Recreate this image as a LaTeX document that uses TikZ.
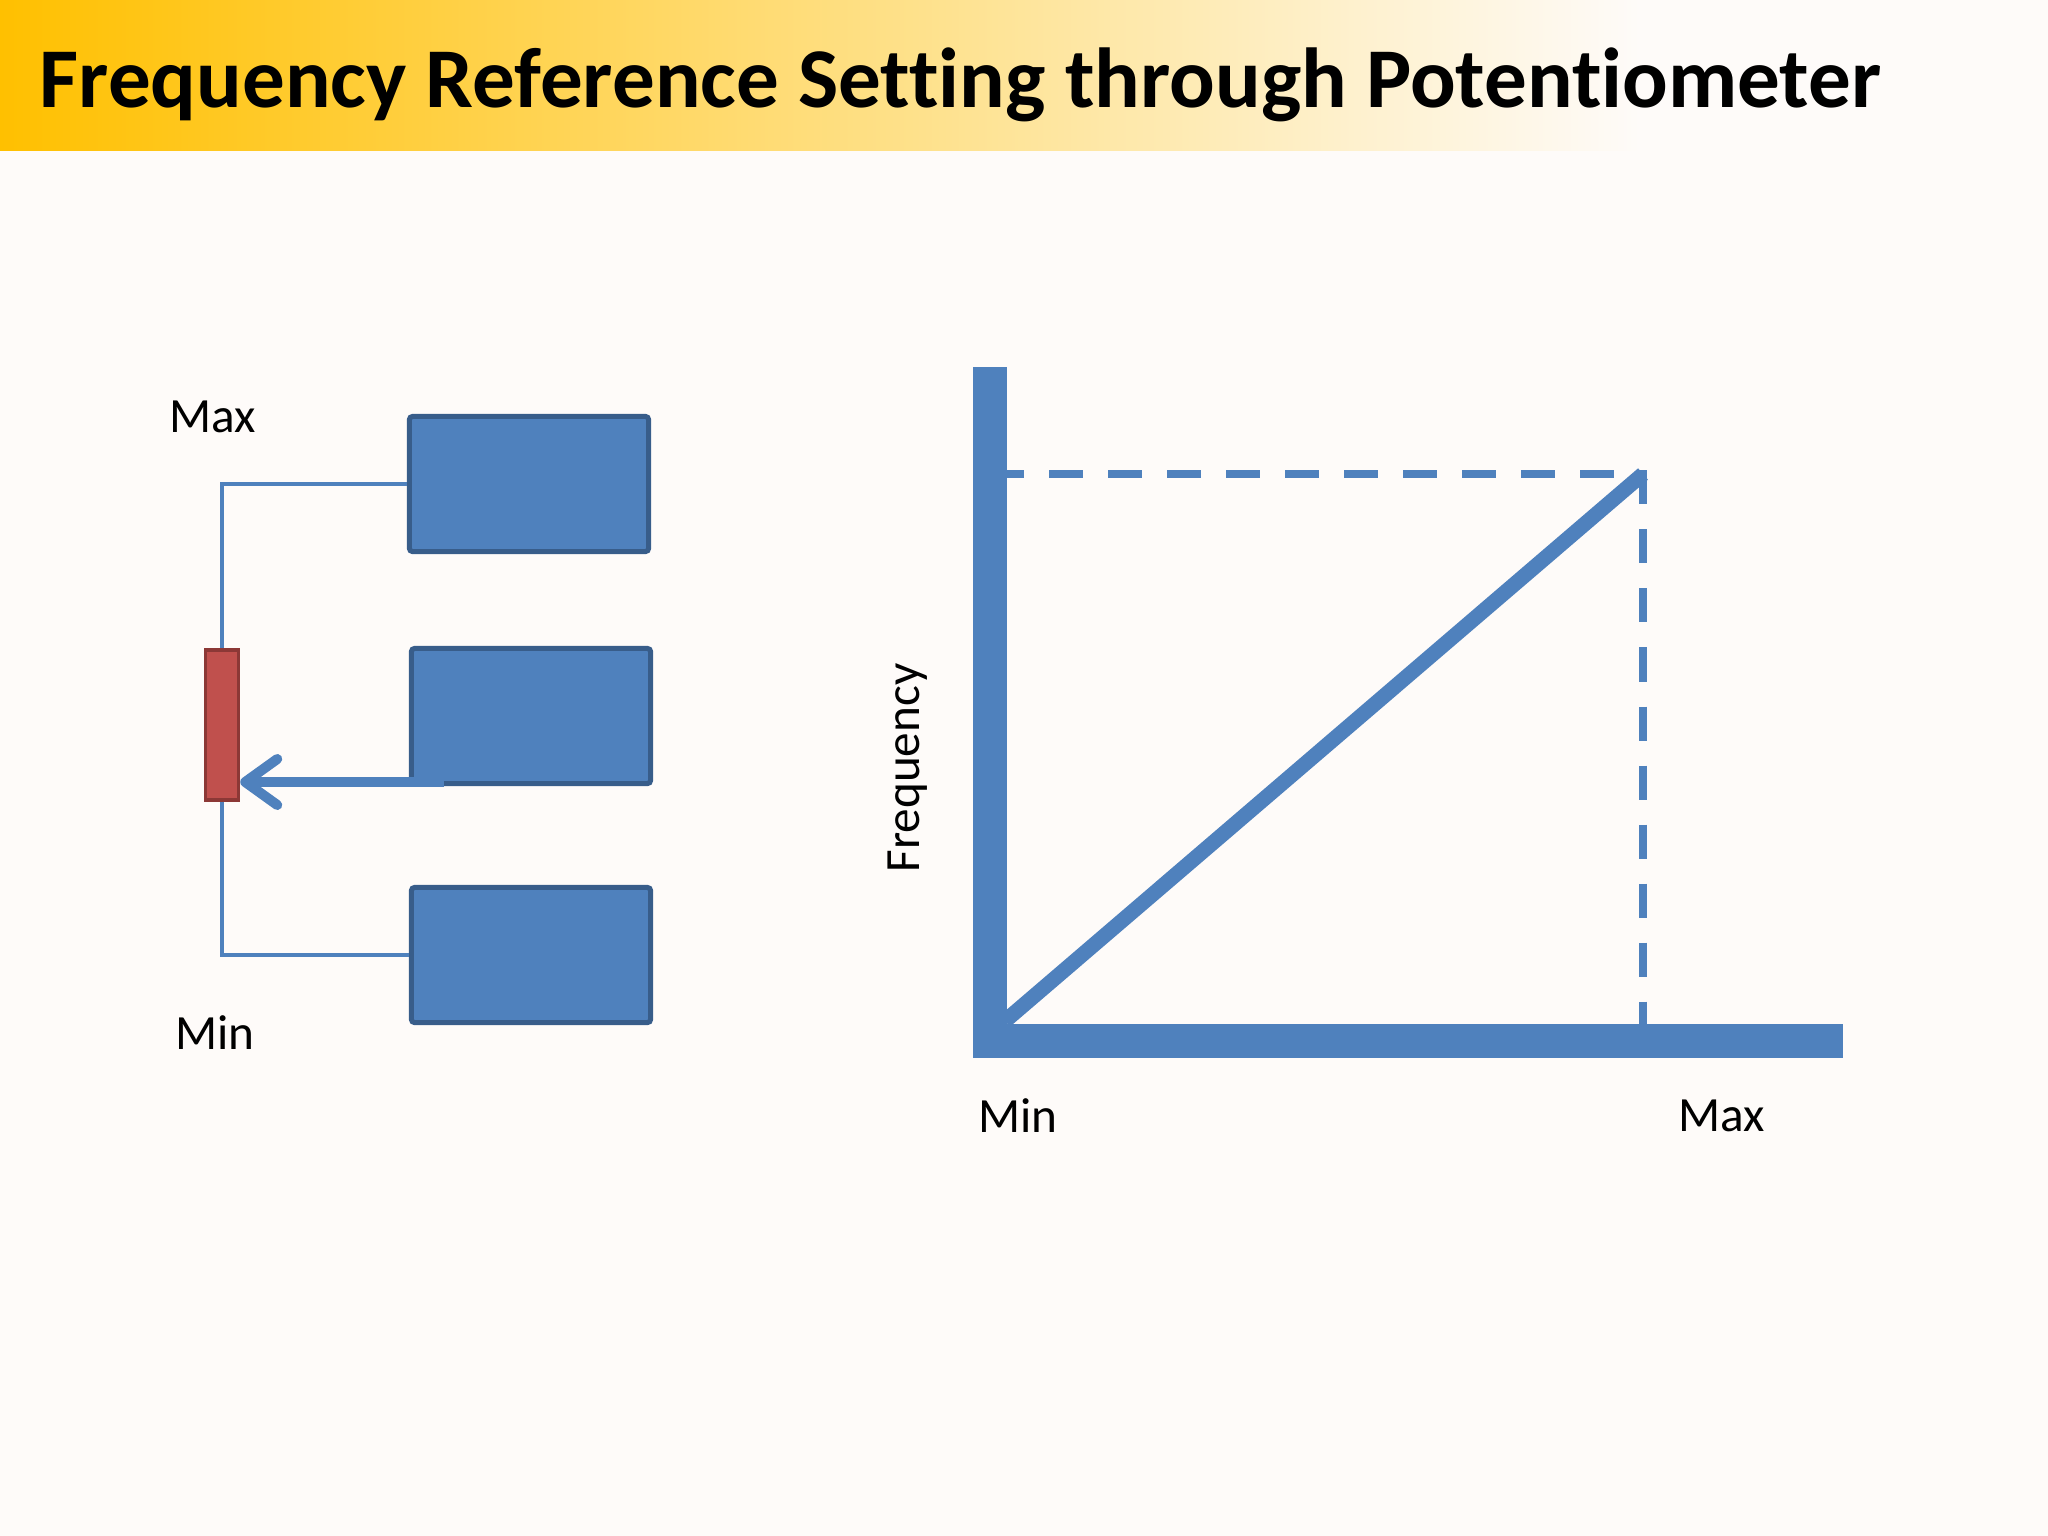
\documentclass[tikz,border=0pt]{standalone}
\usepackage{fontspec}
\setmainfont{Carlito}[Ligatures=CommonOff]
\usetikzlibrary{arrows.meta}
\definecolor{ofblue}{RGB}{79,129,189}
\definecolor{ofblueline}{RGB}{56,93,138}
\definecolor{ofred}{RGB}{192,80,77}
\definecolor{ofredline}{RGB}{140,56,54}
\definecolor{titleorange}{RGB}{255,192,0}
\definecolor{titlemid}{RGB}{255,228,140}
\definecolor{paper}{RGB}{254,251,249}

\begin{document}
\begin{tikzpicture}[x=0.01cm, y=-0.01cm,
    block/.style={draw=ofblueline, fill=ofblue, line width=0.5mm, inner sep=0pt,
      minimum width=2.39cm, minimum height=1.35cm, rounded corners=0.3mm},
    lbl/.style={font=\fontsize{14}{17}\selectfont, inner sep=0pt},
    wire/.style={draw=ofblue, line width=0.4mm},
    axisline/.style={draw=ofblue, line width=0.34cm, line join=miter},
    dashline/.style={draw=ofblue, line width=0.08cm, dash pattern=on 0.34cm off 0.25cm}]
    % page and title bar
    \fill[paper] (0,0) rectangle (2048,1536);
    \useasboundingbox (0,0) rectangle (2048,1536);
    \shade[left color=titleorange, middle color=titlemid, right color=paper] (0,0) rectangle (1640,150);
    \node[anchor=base west, inner sep=0pt] (title) at (39,107)
        {\fontsize{24.2}{29}\selectfont\bfseries Frequency Reference Setting through Potentiometer};

    % potentiometer side
    \node[block] (box1) at (529,484) {};
    \node[block] (box2) at (531,716) {};
    \node[block] (box3) at (531,955) {};
    \node[draw=ofredline, fill=ofred, line width=0.35mm, inner sep=0pt,
          minimum width=0.33cm, minimum height=1.5cm] (pot) at (222,725) {};
    \node[lbl] (potmax) at (213,417) {Max};
    \node[lbl] (potmin) at (215,1033) {Min};
    \path[wire] (box1.west) -| (pot.north);
    \path[wire] (pot.south) |- (box3.west);
    \coordinate (tail) at (444,782);
    \draw[draw=ofblue, line width=0.1cm, -{Straight Barb[length=3.2mm, width=4.6mm, round]}]
        (tail) -- (pot.east |- tail);

    % frequency graph
    \coordinate (o) at (990,1041);
    \coordinate (ytop) at (990,367);
    \coordinate (xend) at (1843,1041);
    \coordinate (start) at (1005,1021);
    \coordinate (peak) at (1643,474);
    \path[dashline] (ytop |- peak) -- (peak) -- (peak |- o);
    \draw[ofblue, line width=0.15cm] (start) -- (peak);
    \path[axisline] (ytop) -- (o) -- (xend);
    \node[lbl, rotate=90] (freq) at (908,768) {Frequency};
    \node[lbl] (xmin) at (1018,1116) {Min};
    \node[lbl] (xmax) at (1722,1116) {Max};
\end{tikzpicture}
\end{document}
